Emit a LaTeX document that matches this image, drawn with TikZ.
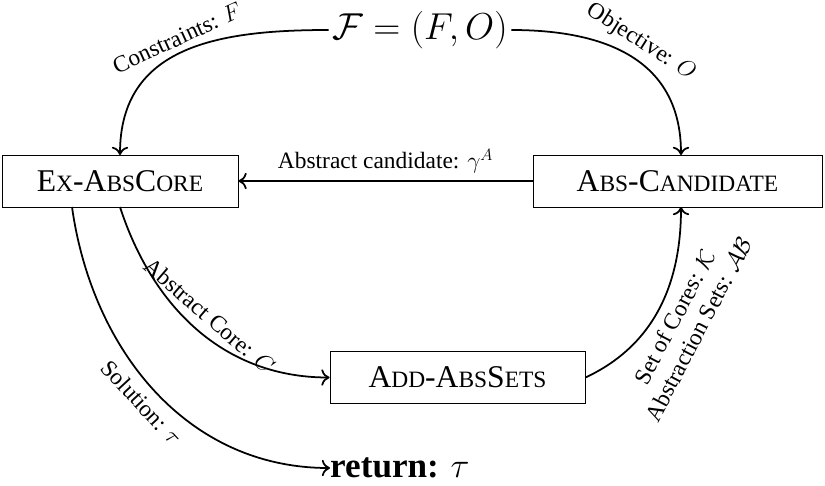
\documentclass[tikz,border=0pt]{standalone}
\usepackage{fix-cm}
\usepackage{fontspec}
\setmainfont{Liberation Serif}
\usetikzlibrary{arrows.meta}
\newcommand{\ssc}[1]{{\fontsize{20}{24}\selectfont #1}}
\begin{document}
\begin{tikzpicture}[x=0.03cm,y=-0.03cm,
  box/.style={draw,line width=0.8pt,minimum height=52*0.03cm,inner sep=0pt,font=\fontsize{27}{30}\selectfont},
  arr/.style={line width=1.5pt,-{To[length=7pt,width=14pt]}},
  lab/.style={font=\fontsize{20}{23}\selectfont,inner sep=2pt}]
\useasboundingbox (0,0) rectangle (825,486);
\node[box,minimum width=236*0.03cm] (ex) at (120,181) {E\ssc{X}-A\ssc{BS}C\ssc{ORE}};
\node[box,minimum width=289*0.03cm] (ac) at (677.5,181) {A\ssc{BS}-C\ssc{ANDIDATE}};
\node[box,minimum width=255*0.03cm] (add) at (457.5,377.5) {A\ssc{DD}-A\ssc{BS}S\ssc{ETS}};
\node[font=\fontsize{32}{36}\selectfont,inner sep=3pt] (F) at (420,30) {$\mathcal{F}=(F,O)$};
\node[font=\fontsize{30}{34}\selectfont\bfseries,anchor=west,inner sep=0pt] (ret) at (330,468) {return: $\tau$};
\coordinate (exb1) at (120,207);
\coordinate (exb2) at (72,207);
\coordinate (act) at (681,155);
\coordinate (acb) at (681,207);
\coordinate (ext) at (120,155);
\draw[arr] (F.west) to[out=180,in=90,looseness=1.15] node[lab,pos=0.5,sloped,above=3pt] {Constraints: $F$} (ext);
\draw[arr] (F.east) to[out=0,in=90,looseness=1.15] node[lab,pos=0.5,sloped,above=3pt] {Objective: $O$} (act);
\draw[arr] (ac.west) -- node[lab,above=4pt] {Abstract candidate: $\gamma^A$} (ex.east);
\draw[arr] (exb1) to[out=-72,in=180] node[lab,pos=0.5,sloped,above=6pt] {Abstract Core: $C$} (add.west);
\draw[arr] (exb2) to[out=-82,in=180] node[lab,pos=0.5,sloped,below=5pt] {Solution: $\tau$} (ret.west);
\draw[arr] (add.east) to[out=25,in=-90] node[lab,pos=0.5,sloped,below=5pt,align=center] {Set of Cores: $\mathcal{K}$\\Abstraction Sets: $\mathcal{AB}$} (acb);
\end{tikzpicture}
\end{document}
